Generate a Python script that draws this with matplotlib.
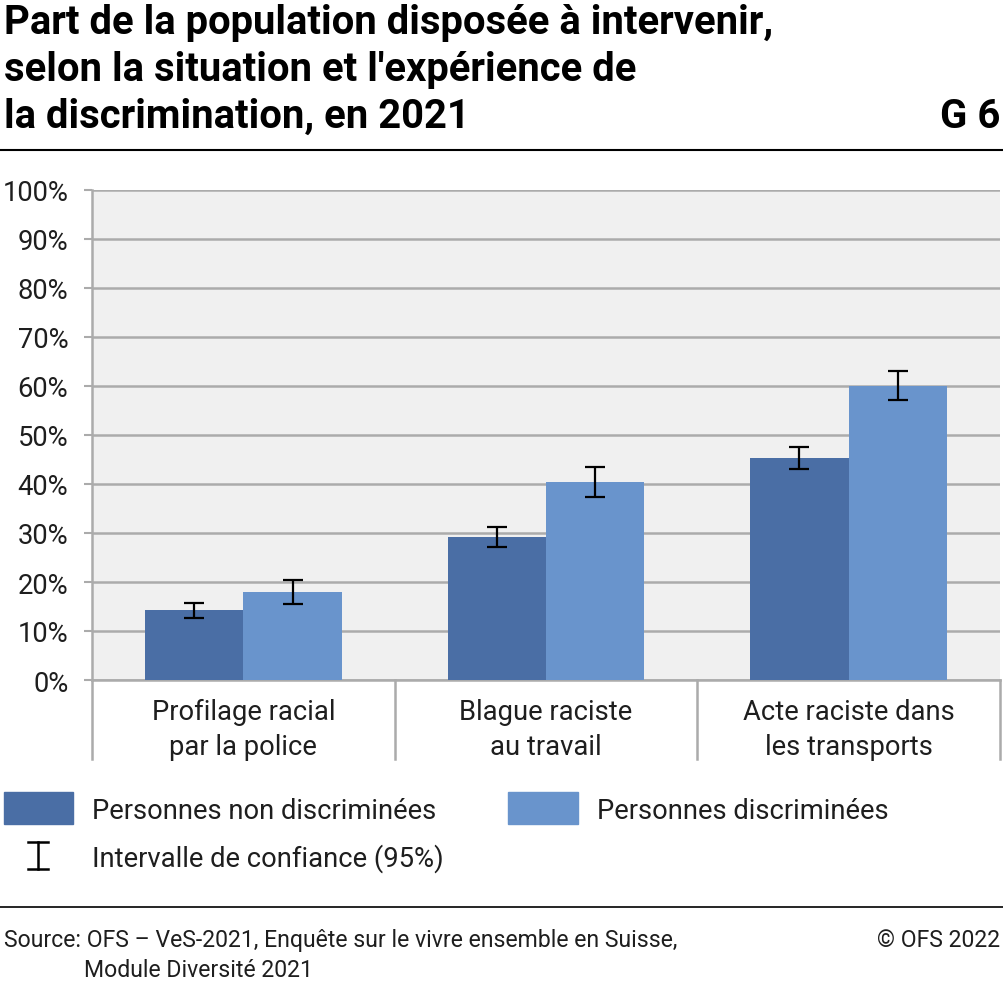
import matplotlib.pyplot as plt
import numpy as np
from matplotlib.patches import Rectangle
from matplotlib.lines import Line2D

plt.rcParams['font.family'] = ['Roboto', 'DejaVu Sans']

categories = ["Profilage racial\npar la police", "Blague raciste\nau travail", "Acte raciste dans\nles transports"]
non_discr = [14.2, 29.2, 45.3]
non_discr_err = [1.6, 2.1, 2.2]
discr = [18.0, 40.4, 60.1]
discr_err = [2.4, 3.1, 3.0]
yticks = [0, 10, 20, 30, 40, 50, 60, 70, 80, 90, 100]

W, H = 1004, 987
fig = plt.figure(figsize=(W / 100, H / 100), dpi=100)

def fx(px):
    return px / W

def fy(py):
    return 1 - py / H

dark = "#4A6EA5"
light = "#6994CC"
grid = "#ABABAB"
txt = "#1E1E1E"
fs = 19.7

# plot area (pixels): x 92-1000, y 191-681
ax = fig.add_axes([fx(92), fy(681), fx(1000) - fx(92), fy(191) - fy(681)])
ax.set_facecolor("#F0F0F0")
ax.set_xlim(-0.5, 2.5)
ax.set_ylim(0, 100)

x = np.arange(len(categories))
w = 0.325
ax.bar(x - w / 2, non_discr, w, color=dark, zorder=3)
ax.bar(x + w / 2, discr, w, color=light, zorder=3)
ax.errorbar(x - w / 2, non_discr, yerr=non_discr_err, fmt="none", ecolor="black",
            elinewidth=1.6, capsize=7, capthick=1.6, zorder=4)
ax.errorbar(x + w / 2, discr, yerr=discr_err, fmt="none", ecolor="black",
            elinewidth=1.6, capsize=7, capthick=1.6, zorder=4)

ax.set_yticks(yticks)
ax.set_yticklabels([f"{t}%" for t in yticks], fontsize=fs, color=txt)
ax.yaxis.grid(True, color=grid, linewidth=1.8, zorder=0)
ax.tick_params(axis="y", length=6, width=1.5, color=grid, pad=11)
ax.set_xticks([])
for s in ["top", "right"]:
    ax.spines[s].set_visible(False)
ax.spines["left"].set_color(grid)
ax.spines["left"].set_linewidth(1.8)
ax.spines["bottom"].set_color(grid)
ax.spines["bottom"].set_linewidth(1.8)

# category separators and labels below the axis
for sx in [92, 395, 697, 1000]:
    fig.add_artist(Line2D([fx(sx), fx(sx)], [fy(681), fy(760)], color=grid, linewidth=1.8))
for i, c in enumerate(categories):
    cx = 92 + (i + 0.5) * (908 / 3)
    fig.text(fx(cx), fy(730), c, ha="center", va="center", fontsize=fs,
             color=txt, linespacing=1.42)

# title
fig.text(fx(4), fy(4), "Part de la population disposée à intervenir,\nselon la situation et l'expérience de\nla discrimination, en 2021",
         ha="left", va="top", fontsize=28.8, fontweight="bold", linespacing=1.29)
fig.text(fx(1000), fy(128), "G 6", ha="right", va="baseline", fontsize=28.8, fontweight="bold")
fig.add_artist(Line2D([0, 1], [fy(151), fy(151)], color="black", linewidth=1.5))

# legend
fig.add_artist(Rectangle((fx(4), fy(825)), fx(69), fy(793) - fy(825), color=dark))
fig.text(fx(92), fy(812), "Personnes non discriminées", ha="left", va="center", fontsize=fs, color=txt)
fig.add_artist(Rectangle((fx(508), fy(825)), fx(70), fy(793) - fy(825), color=light))
fig.text(fx(597), fy(812), "Personnes discriminées", ha="left", va="center", fontsize=fs, color=txt)
fig.add_artist(Line2D([fx(38), fx(38)], [fy(843), fy(870)], color="black", linewidth=1.8))
fig.add_artist(Line2D([fx(28), fx(48)], [fy(843), fy(843)], color="black", linewidth=1.8))
fig.add_artist(Line2D([fx(28), fx(48)], [fy(870), fy(870)], color="black", linewidth=1.8))
fig.text(fx(92), fy(859), "Intervalle de confiance (95%)", ha="left", va="center", fontsize=fs, color=txt)

# footer
fig.add_artist(Line2D([0, 1], [fy(908), fy(908)], color="black", linewidth=1.2))
fig.text(fx(4), fy(941), "Source: OFS – VeS-2021, Enquête sur le vivre ensemble en Suisse,",
         ha="left", va="center", fontsize=16.6, color=txt)
fig.text(fx(84), fy(971), "Module Diversité 2021", ha="left", va="center", fontsize=16.6, color=txt)
fig.text(fx(1000), fy(941), "© OFS 2022", ha="right", va="center", fontsize=16.6, color=txt)

fig.savefig("out.png", dpi=100)
